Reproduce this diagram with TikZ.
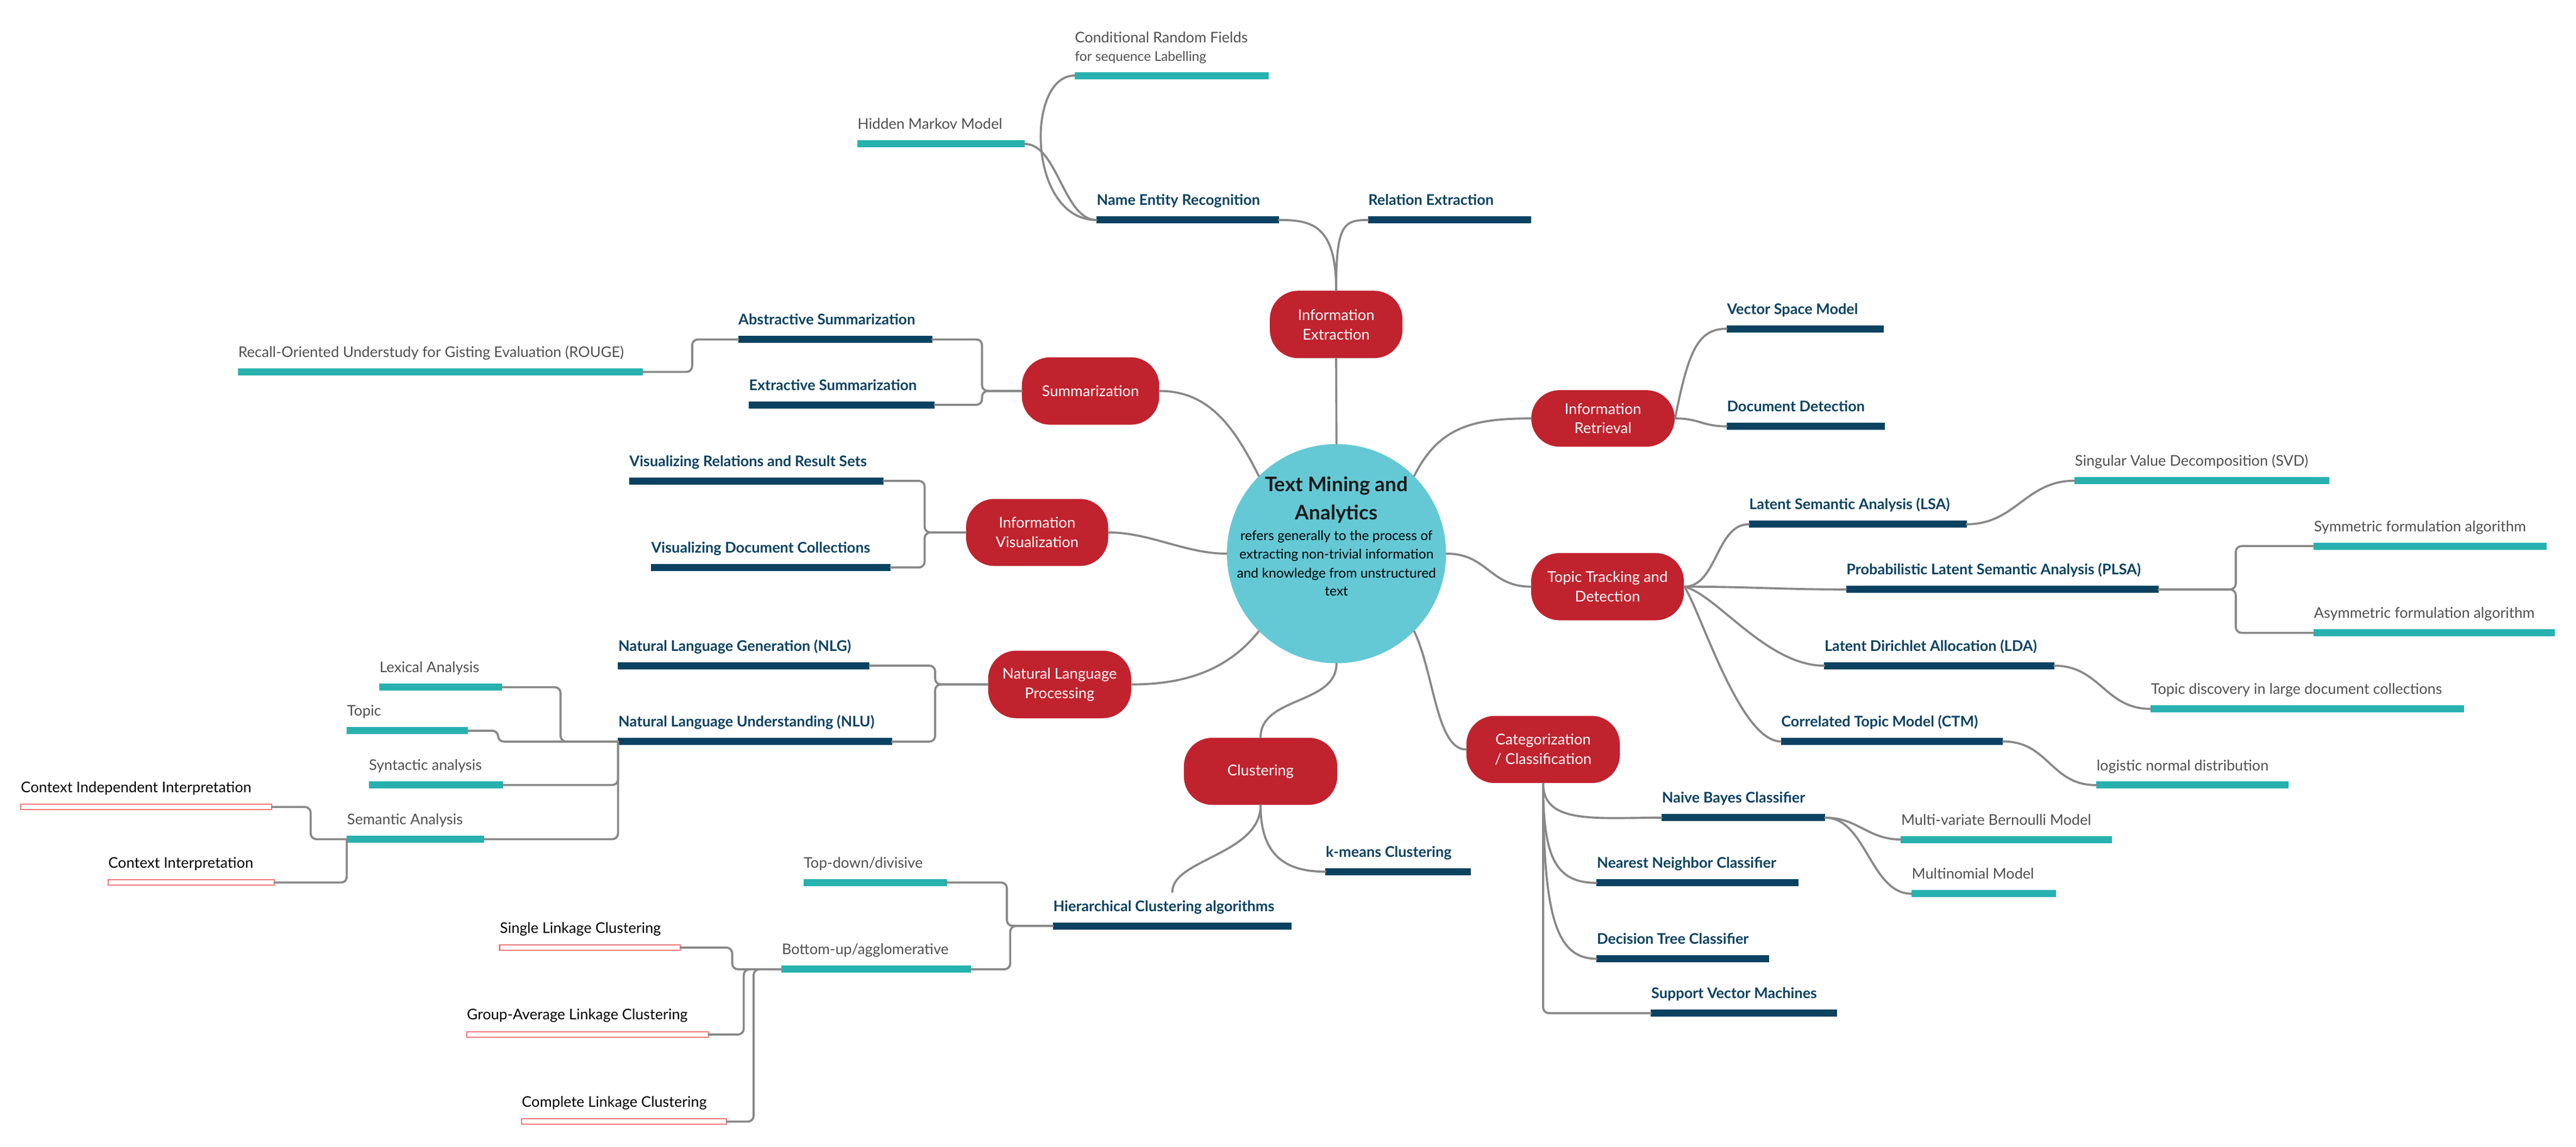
\documentclass[tikz,border=0pt]{standalone}
\usepackage{fontspec}
\setmainfont{Lato}
\usetikzlibrary{positioning}

\definecolor{redc}{HTML}{C0232E}
\definecolor{hubc}{HTML}{64C9D5}
\definecolor{navyc}{HTML}{0C4261}
\definecolor{tealc}{HTML}{27B1AF}
\definecolor{pinkc}{HTML}{F27474}
\definecolor{linkc}{HTML}{888888}
\definecolor{greytxt}{HTML}{505050}

\def\px{0.030236cm}

\begin{document}
\begin{tikzpicture}[
x=0.030236cm, y=-0.030236cm,
link/.style={draw=linkc, line width=1.1pt, line cap=round, rounded corners=3pt},
hub/.style={circle, fill=hubc, inner sep=0pt, minimum size=133.4*\px},
hubttl/.style={anchor=base, inner sep=0pt, text=black!90, font=\bfseries\fontsize{10.5}{12}\selectfont},
hubsub/.style={anchor=base, inner sep=0pt, text=black, font=\fontsize{7}{8}\selectfont},
topic/.style={fill=redc, text=white, rounded corners=5.2mm, align=center, inner sep=0pt, font=\fontsize{7.8}{10.2}\selectfont},
bar/.style={rectangle, inner sep=0pt, outer sep=0pt, minimum height=1.3mm, anchor=west},
navybar/.style={bar, fill=navyc},
tealbar/.style={bar, fill=tealc},
pinkbar/.style={bar, fill=white, draw=pinkc, line width=0.6pt, minimum height=1.0mm},
navylbl/.style={anchor=base west, inner sep=0pt, yshift=2.05mm, text=navyc, font=\bfseries\fontsize{7.7}{9}\selectfont},
teallbl/.style={anchor=base west, inner sep=0pt, yshift=2.05mm, text=greytxt, font=\fontsize{7.7}{9}\selectfont},
pinklbl/.style={anchor=base west, inner sep=0pt, yshift=2.2mm, text=black, font=\fontsize{7.7}{9}\selectfont}]

\path[use as bounding box, fill=white] (0,0) rectangle (1568,697.85);

% central topic
\node[hub] (ctr) at (813.5,337) {};
\node[hubttl] (ttl1) at (813.5,299.1) {Text Mining and};
\node[hubttl] (ttl2) at (813.5,316.2) {Analytics};
\node[hubsub] (sub1) at (813.5,329) {refers generally to the process of};
\node[hubsub] (sub2) at (813.5,340.2) {extracting non-trivial information};
\node[hubsub] (sub3) at (813.5,351.6) {and knowledge from unstructured};
\node[hubsub] (sub4) at (813.5,362.8) {text};

% main branches
\node[topic, minimum width=80.7*\px, minimum height=41*\px] (ie) at (813.3,197.5) {Information\\Extraction};
\node[topic, minimum width=87.3*\px, minimum height=34.4*\px] (ir) at (975.7,254.7) {Information\\Retrieval};
\node[topic, minimum width=83.6*\px, minimum height=41*\px] (summ) at (663.8,238) {Summarization};
\node[topic, minimum width=86.5*\px, minimum height=40.8*\px] (iv) at (631.3,324.1) {Information\\Visualization};
\node[topic, minimum width=93*\px, minimum height=40.9*\px] (tt) at (978.5,357.1) {Topic Tracking and\\Detection};
\node[topic, minimum width=87.1*\px, minimum height=41.1*\px] (nlp) at (645,416.6) {Natural Language\\Processing};
\node[topic, minimum width=93.3*\px, minimum height=40.8*\px] (clus) at (767.3,469.5) {Clustering};
\node[topic, minimum width=93.4*\px, minimum height=40.9*\px] (cat) at (939.3,456.2) {Categorization\\/ Classification};

% information extraction
\node[navybar, minimum width=111*\px, label={[navylbl]north west:Name Entity Recognition}] (ner) at (667.4,133.9) {};
\node[navybar, minimum width=99.3*\px, label={[navylbl]north west:Relation Extraction}] (rel) at (832.7,133.9) {};
\node[tealbar, minimum width=101.9*\px, label={[teallbl]north west:Hidden Markov Model}] (hmm) at (521.8,87.6) {};
\node[tealbar, minimum width=118.1*\px, label={[teallbl]north west:{\fontsize{7}{8}\selectfont for sequence Labelling}}, label={[teallbl, yshift=3.4mm]north west:Conditional Random Fields}] (crf) at (654.1,46) {};

% information retrieval
\node[navybar, minimum width=95.5*\px, label={[navylbl]north west:Vector Space Model}] (vsm) at (1051,200.1) {};
\node[navybar, minimum width=96.2*\px, label={[navylbl]north west:Document Detection}] (dd) at (1051,259.5) {};

% summarization
\node[navybar, minimum width=118.1*\px, label={[navylbl]north west:Abstractive Summarization}] (abs) at (449.3,206.6) {};
\node[navybar, minimum width=113.2*\px, label={[navylbl]north west:Extractive Summarization}] (ext) at (455.7,246.4) {};
\node[tealbar, minimum width=246.5*\px, label={[teallbl]north west:Recall-Oriented Understudy for Gisting Evaluation (ROUGE)}] (rouge) at (144.8,226.4) {};

% information visualization
\node[navybar, minimum width=154.9*\px, label={[navylbl]north west:Visualizing Relations and Result Sets}] (vr) at (382.9,292.7) {};
\node[navybar, minimum width=145.8*\px, label={[navylbl]north west:Visualizing Document Collections}] (vdc) at (396.2,345.4) {};

% topic tracking and detection
\node[navybar, minimum width=132.6*\px, label={[navylbl]north west:Latent Semantic Analysis (LSA)}] (lsa) at (1064.5,319.1) {};
\node[navybar, minimum width=190.2*\px, label={[navylbl]north west:Probabilistic Latent Semantic Analysis (PLSA)}] (plsa) at (1123.7,358.8) {};
\node[navybar, minimum width=140*\px, label={[navylbl]north west:Latent Dirichlet Allocation (LDA)}] (lda) at (1110.4,405.2) {};
\node[navybar, minimum width=135.2*\px, label={[navylbl]north west:Correlated Topic Model (CTM)}] (ctm) at (1084,451.3) {};
\node[tealbar, minimum width=155*\px, label={[teallbl]north west:Singular Value Decomposition (SVD)}] (svd) at (1262.8,292.6) {};
\node[tealbar, minimum width=141.7*\px, label={[teallbl]north west:Symmetric formulation algorithm}] (sym) at (1408.3,332.4) {};
\node[tealbar, minimum width=146.8*\px, label={[teallbl]north west:Asymmetric formulation algorithm}] (asym) at (1408.3,385.2) {};
\node[tealbar, minimum width=190.6*\px, label={[teallbl]north west:Topic discovery in large document collections}] (tdisc) at (1309.1,431.5) {};
\node[tealbar, minimum width=117*\px, label={[teallbl]north west:logistic normal distribution}] (logis) at (1276,477.9) {};

% categorization
\node[navybar, minimum width=99.5*\px, label={[navylbl]north west:Naive Bayes Classifier}] (nb) at (1011.4,497.7) {};
\node[navybar, minimum width=122.9*\px, label={[navylbl]north west:Nearest Neighbor Classifier}] (nn) at (971.8,537.4) {};
\node[navybar, minimum width=105.1*\px, label={[navylbl]north west:Decision Tree Classifier}] (dt) at (971.8,583.6) {};
\node[navybar, minimum width=113.4*\px, label={[navylbl]north west:Support Vector Machines}] (svm) at (1004.9,616.7) {};
\node[tealbar, minimum width=128.4*\px, label={[teallbl]north west:Multi-variate Bernoulli Model}] (mvb) at (1157,511) {};
\node[tealbar, minimum width=87.9*\px, label={[teallbl]north west:Multinomial Model}] (mn) at (1163.5,544) {};

% clustering
\node[navybar, minimum width=88.5*\px, label={[navylbl]north west:k-means Clustering}] (km) at (806.8,530.6) {};
\node[navybar, minimum width=145.4*\px, label={[navylbl]north west:Hierarchical Clustering algorithms}] (hier) at (640.9,563.6) {};
\coordinate[above=5.6mm of hier.north] (hiertop);
\node[tealbar, minimum width=87.3*\px, label={[teallbl]north west:Top-down/divisive}] (tdiv) at (489,537.2) {};
\node[tealbar, minimum width=115.4*\px, label={[teallbl]north west:Bottom-up/agglomerative}] (bu) at (475.7,590) {};
\node[pinkbar, minimum width=110.1*\px, label={[pinklbl]north west:Single Linkage Clustering}] (single) at (304.1,576.8) {};
\node[pinkbar, minimum width=147.3*\px, label={[pinklbl]north west:Group-Average Linkage Clustering}] (grpavg) at (284,629.7) {};
\node[pinkbar, minimum width=124.9*\px, label={[pinklbl]north west:Complete Linkage Clustering}] (compl) at (317.4,682.7) {};

% natural language processing
\node[navybar, minimum width=153.1*\px, label={[navylbl]north west:Natural Language Generation (NLG)}] (nlg) at (376.2,405.2) {};
\node[navybar, minimum width=166.7*\px, label={[navylbl]north west:Natural Language Understanding (NLU)}] (nlu) at (376.2,451.4) {};
\node[tealbar, minimum width=74.8*\px, label={[teallbl]north west:Lexical Analysis}] (lex) at (230.8,418.3) {};
\node[tealbar, minimum width=73.7*\px, label={[teallbl]north west:Topic}] (topic) at (211.1,444.8) {};
\node[tealbar, minimum width=82*\px, label={[teallbl]north west:Syntactic analysis}] (syn) at (224.4,477.8) {};
\node[tealbar, minimum width=83.5*\px, label={[teallbl]north west:Semantic Analysis}] (sem) at (211.1,510.8) {};
\node[pinkbar, minimum width=153*\px, label={[pinklbl]north west:Context Independent Interpretation}] (ctxind) at (12.5,491.2) {};
\node[pinkbar, minimum width=101.4*\px, label={[pinklbl]north west:Context Interpretation}] (ctxint) at (65.7,537.2) {};

% links from the centre
\draw[link] (ctr.north) -- (ie.south);
\draw[link] (ctr.45) .. controls +(15,-30) and +(-35,0) .. (ir.west);
\draw[link] (ctr.135) .. controls +(-15,-30) and +(30,0) .. (summ.east);
\draw[link] (ctr.west) .. controls +(-25,0) and +(25,0) .. (iv.east);
\draw[link] (ctr.east) .. controls +(25,0) and +(-25,0) .. (tt.west);
\draw[link] (ctr.225) .. controls +(-20,25) and +(30,0) .. (nlp.east);
\draw[link] (ctr.south) .. controls +(0,25) and +(0,-25) .. (clus.north);
\draw[link] (ctr.-45) .. controls +(12,25) and +(-18,0) .. (cat.west);

% information extraction
\draw[link] (ie.north) .. controls +(0,-40) and +(20,0) .. (ner.east);
\draw[link] (ie.north) .. controls +(0,-40) and +(-15,0) .. (rel.west);
\draw[link] (ner.west) .. controls +(-20,0) and +(20,0) .. (hmm.east);
\draw[link] (ner.west) .. controls +(-42,0) and +(-30,0) .. (crf.west);

% information retrieval
\draw[link] (ir.east) .. controls +(8,-40) and +(-18,0) .. (vsm.west);
\draw[link] (ir.east) .. controls +(15,0) and +(-15,0) .. (dd.west);

% summarization
\draw[link] (summ.west) -- ++(-24,0) |- (abs.east);
\draw[link] (summ.west) -- ++(-24,0) |- (ext.east);
\draw[link] (abs.west) -- ++(-28,0) |- (rouge.east);

% information visualization
\draw[link] (iv.west) -- ++(-25,0) |- (vr.east);
\draw[link] (iv.west) -- ++(-25,0) |- (vdc.east);

% topic tracking and detection
\draw[link] (tt.east) .. controls +(20,0) and +(-20,0) .. (lsa.west);
\draw[link] (tt.east) .. controls +(40,0) and +(-40,0) .. (plsa.west);
\draw[link] (tt.east) .. controls +(20,5) and +(-35,0) .. (lda.west);
\draw[link] (tt.east) .. controls +(10,15) and +(-25,0) .. (ctm.west);
\draw[link] (lsa.east) .. controls +(30,0) and +(-30,0) .. (svd.west);
\draw[link] (plsa.east) -- ++(47,0) |- (sym.west);
\draw[link] (plsa.east) -- ++(47,0) |- (asym.west);
\draw[link] (lda.east) .. controls +(28,0) and +(-28,0) .. (tdisc.west);
\draw[link] (ctm.east) .. controls +(28,0) and +(-28,0) .. (logis.west);

% categorization
\draw[link] (cat.south) .. controls +(0,25) and +(-40,0) .. (nb.west);
\draw[link] (cat.south) .. controls +(0,45) and +(-25,0) .. (nn.west);
\draw[link] (cat.south) .. controls +(0,80) and +(-25,0) .. (dt.west);
\draw[link] (cat.south) |- (svm.west);
\draw[link] (nb.east) .. controls +(20,0) and +(-20,0) .. (mvb.west);
\draw[link] (nb.east) .. controls +(25,0) and +(-25,0) .. (mn.west);

% clustering
\draw[link] (clus.south) .. controls +(0,30) and +(-25,0) .. (km.west);
\draw[link] (clus.south) .. controls +(0,30) and +(0,-20) .. (hiertop);
\draw[link] (hier.west) -- ++(-28,0) |- (tdiv.east);
\draw[link] (hier.west) -- ++(-26,0) |- (bu.east);
\draw[link] (bu.west) -- ++(-30,0) |- (single.east);
\draw[link] (bu.west) -- ++(-23,0) |- (grpavg.east);
\draw[link] (bu.west) -- ++(-17,0) |- (compl.east);

% natural language processing
\draw[link] (nlp.west) -- ++(-32,0) |- (nlg.east);
\draw[link] (nlp.west) -- ++(-32,0) |- (nlu.east);
\draw[link] (nlu.west) -- ++(-35,0) |- (lex.east);
\draw[link] (nlu.west) -- ++(-73,0) |- (topic.east);
\draw[link] (nlu.west) |- (syn.east);
\draw[link] (nlu.west) |- (sem.east);
\draw[link] (sem.west) -- ++(-22,0) |- (ctxind.east);
\draw[link] (sem.west) |- (ctxint.east);
\end{tikzpicture}
\end{document}
